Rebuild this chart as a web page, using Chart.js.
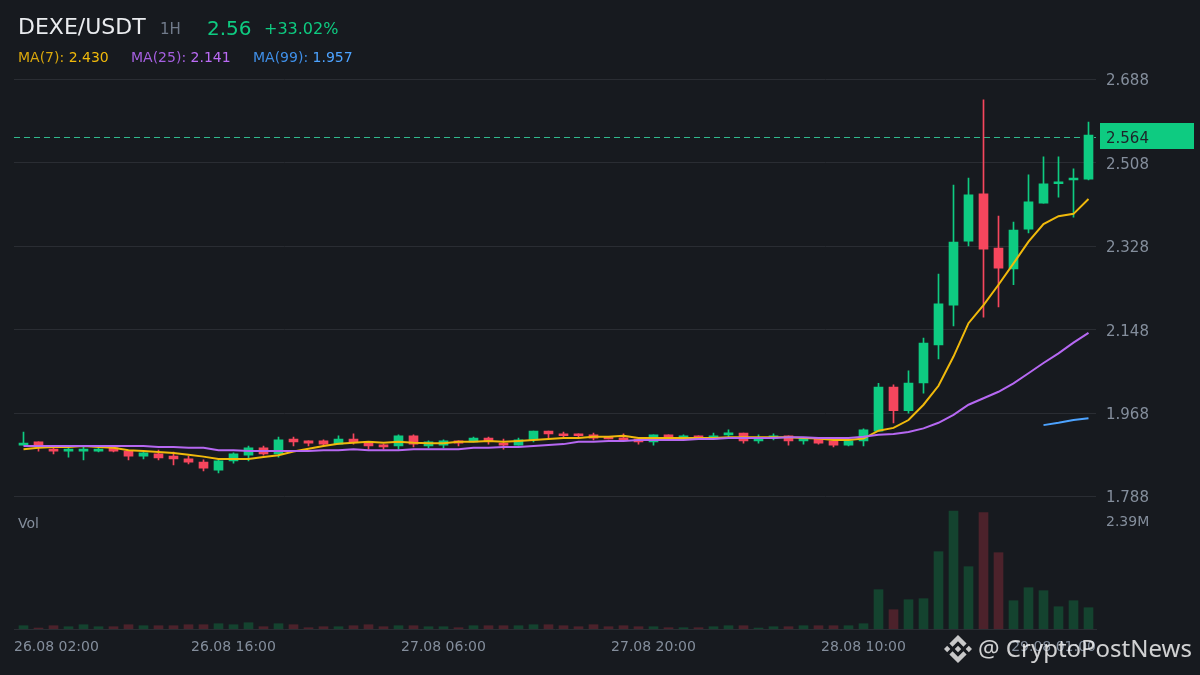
<!DOCTYPE html>
<html>
<head>
<meta charset="utf-8">
<title>DEXE/USDT</title>
<script src="https://cdn.jsdelivr.net/npm/chart.js@4"></script>
<style>
  html, body { margin: 0; padding: 0; background: #171a1f; }
  #wrap { position: relative; width: 1200px; height: 675px; overflow: hidden; font-family: "DejaVu Sans", sans-serif; }
  canvas { position: absolute; left: 0; top: 0; }
  #wrap span { position: absolute; white-space: nowrap; line-height: 1; }
  #logo { position: absolute; left: 944px; top: 635px; width: 28px; height: 28px; opacity: 0.85; }
</style>
</head>
<body>
<div id="wrap">
  <canvas id="chart" width="1200" height="675"></canvas>
  <span style="left:18px;top:16px;font-size:22px;color:#eaecef">DEXE/USDT</span>
  <span style="left:160px;top:22px;font-size:15px;color:#707a8a">1H</span>
  <span style="left:207px;top:18px;font-size:20px;color:#0ecb81">2.56</span>
  <span style="left:264px;top:21px;font-size:16px;color:#0ecb81">+33.02%</span>
  <span style="left:18px;top:50px;font-size:14px;color:#d9a70c">MA(7): <b style="font-weight:normal;color:#f0b90b">2.430</b></span>
  <span style="left:131px;top:50px;font-size:14px;color:#a55fe0">MA(25): <b style="font-weight:normal;color:#bb6bf5">2.141</b></span>
  <span style="left:253px;top:50px;font-size:14px;color:#3f8fe8">MA(99): <b style="font-weight:normal;color:#4da3ff">1.957</b></span>
  <span style="left:18px;top:516px;font-size:14px;color:#848e9c">Vol</span>
  <svg id="logo" viewBox="0 0 126.61 126.61" fill="#e8e8e8">
    <path d="M38.73 53.2L63.3 28.63l24.58 24.58 14.3-14.3L63.3 0 24.43 38.9z"/>
    <path d="M0 63.31l14.3-14.3 14.3 14.3-14.3 14.3z"/>
    <path d="M38.73 73.41L63.3 97.98l24.58-24.58 14.31 14.29-38.89 38.9-38.9-38.88z"/>
    <path d="M98.01 63.31l14.3-14.3 14.3 14.3-14.3 14.3z"/>
    <path d="M77.83 63.3L63.3 48.76 48.79 63.27l14.51 14.5z"/>
  </svg>
  <span style="left:978px;top:636px;font-size:24px;font-family:'Noto Sans',sans-serif;color:rgba(255,255,255,0.8)">@ CryptoPostNews</span>
</div>

<script>
const opens = [1.899, 1.906, 1.890, 1.886, 1.886, 1.886, 1.893, 1.886, 1.875, 1.880, 1.875, 1.869, 1.862, 1.845, 1.865, 1.877, 1.893, 1.880, 1.912, 1.908, 1.908, 1.901, 1.912, 1.906, 1.899, 1.897, 1.919, 1.897, 1.899, 1.908, 1.906, 1.914, 1.903, 1.899, 1.910, 1.929, 1.923, 1.923, 1.921, 1.916, 1.914, 1.912, 1.906, 1.921, 1.912, 1.919, 1.912, 1.921, 1.925, 1.908, 1.914, 1.919, 1.908, 1.912, 1.908, 1.899, 1.908, 1.929, 2.024, 1.973, 2.033, 2.115, 2.201, 2.339, 2.441, 2.324, 2.279, 2.365, 2.421, 2.463, 2.471, 2.473];
const closes = [1.903, 1.895, 1.886, 1.890, 1.890, 1.890, 1.886, 1.875, 1.882, 1.871, 1.869, 1.862, 1.849, 1.865, 1.880, 1.893, 1.880, 1.910, 1.906, 1.903, 1.901, 1.912, 1.906, 1.897, 1.895, 1.919, 1.901, 1.906, 1.908, 1.903, 1.914, 1.908, 1.899, 1.910, 1.929, 1.923, 1.919, 1.919, 1.914, 1.912, 1.910, 1.906, 1.921, 1.914, 1.919, 1.912, 1.919, 1.925, 1.908, 1.914, 1.919, 1.908, 1.914, 1.903, 1.899, 1.908, 1.932, 2.024, 1.973, 2.033, 2.119, 2.204, 2.337, 2.439, 2.322, 2.281, 2.363, 2.424, 2.463, 2.467, 2.475, 2.568];
const highs = [1.927, 1.906, 1.895, 1.895, 1.895, 1.892, 1.897, 1.886, 1.886, 1.888, 1.884, 1.875, 1.867, 1.869, 1.882, 1.897, 1.897, 1.916, 1.916, 1.908, 1.910, 1.919, 1.923, 1.906, 1.901, 1.921, 1.921, 1.908, 1.910, 1.908, 1.916, 1.916, 1.912, 1.914, 1.929, 1.929, 1.927, 1.923, 1.925, 1.916, 1.923, 1.912, 1.921, 1.921, 1.921, 1.919, 1.925, 1.932, 1.925, 1.921, 1.923, 1.919, 1.914, 1.912, 1.908, 1.908, 1.934, 2.032, 2.029, 2.059, 2.130, 2.268, 2.460, 2.475, 2.644, 2.393, 2.380, 2.482, 2.521, 2.521, 2.495, 2.596];
const lows = [1.899, 1.886, 1.880, 1.873, 1.867, 1.884, 1.884, 1.867, 1.869, 1.867, 1.856, 1.858, 1.843, 1.839, 1.860, 1.865, 1.877, 1.873, 1.897, 1.897, 1.897, 1.901, 1.901, 1.890, 1.890, 1.890, 1.895, 1.893, 1.893, 1.897, 1.906, 1.901, 1.890, 1.899, 1.906, 1.914, 1.914, 1.914, 1.910, 1.912, 1.910, 1.901, 1.899, 1.914, 1.912, 1.912, 1.912, 1.916, 1.903, 1.903, 1.910, 1.899, 1.901, 1.901, 1.895, 1.897, 1.897, 1.929, 1.947, 1.968, 2.011, 2.085, 2.156, 2.329, 2.175, 2.197, 2.245, 2.357, 2.421, 2.434, 2.391, 2.471];
const volumes = [0.073, 0.022, 0.073, 0.051, 0.095, 0.051, 0.051, 0.095, 0.073, 0.073, 0.073, 0.095, 0.095, 0.117, 0.095, 0.139, 0.051, 0.117, 0.095, 0.029, 0.051, 0.051, 0.073, 0.095, 0.051, 0.073, 0.073, 0.051, 0.051, 0.029, 0.073, 0.073, 0.073, 0.073, 0.095, 0.095, 0.073, 0.051, 0.095, 0.051, 0.073, 0.051, 0.051, 0.029, 0.029, 0.029, 0.051, 0.073, 0.073, 0.022, 0.051, 0.051, 0.073, 0.073, 0.073, 0.073, 0.117, 0.870, 0.427, 0.648, 0.671, 1.711, 2.611, 1.379, 2.574, 1.689, 0.626, 0.914, 0.848, 0.493, 0.626, 0.471];
const ma7 = [1.890, 1.893, 1.895, 1.895, 1.897, 1.895, 1.893, 1.888, 1.886, 1.884, 1.882, 1.878, 1.874, 1.869, 1.869, 1.869, 1.873, 1.877, 1.885, 1.891, 1.897, 1.902, 1.904, 1.906, 1.904, 1.906, 1.904, 1.903, 1.903, 1.906, 1.906, 1.908, 1.906, 1.908, 1.910, 1.912, 1.914, 1.914, 1.917, 1.917, 1.919, 1.914, 1.914, 1.914, 1.914, 1.914, 1.914, 1.916, 1.916, 1.916, 1.916, 1.916, 1.914, 1.913, 1.910, 1.910, 1.913, 1.930, 1.936, 1.953, 1.986, 2.027, 2.090, 2.162, 2.201, 2.245, 2.291, 2.338, 2.376, 2.393, 2.398, 2.430];
const ma25 = [1.897, 1.897, 1.897, 1.897, 1.897, 1.897, 1.897, 1.897, 1.897, 1.895, 1.895, 1.893, 1.893, 1.888, 1.888, 1.886, 1.886, 1.886, 1.886, 1.886, 1.888, 1.888, 1.890, 1.888, 1.888, 1.888, 1.890, 1.890, 1.890, 1.890, 1.893, 1.893, 1.895, 1.895, 1.897, 1.899, 1.901, 1.906, 1.906, 1.908, 1.908, 1.910, 1.910, 1.910, 1.910, 1.912, 1.912, 1.914, 1.914, 1.914, 1.914, 1.916, 1.916, 1.914, 1.914, 1.914, 1.917, 1.921, 1.923, 1.927, 1.935, 1.947, 1.964, 1.986, 2.000, 2.014, 2.032, 2.054, 2.076, 2.097, 2.120, 2.141];
const ma99 = [1.942, 1.947, 1.953, 1.957];
const ma99Start = 68;

const priceTicks = [1.788, 1.968, 2.148, 2.328, 2.508, 2.688];
const priceLine = 2.5635;
const priceLineLabel = '2.564';
const volTicks = [2.39];
const timeLabels = ['26.08 02:00', '26.08 16:00', '27.08 06:00', '27.08 20:00', '28.08 10:00', '29.08 01:00'];

const xMin = -0.6333;
const xMax = 71.5;
const timeTicks = [xMin, 14, 28, 42, 56, xMax];

const green = '#0ecb81';
const red = '#f6465d';
const gridColor = '#2a2d33';
const axisText = '#848e9c';

const isUp = opens.map((o, i) => closes[i] >= o);
const candleColors = isUp.map(up => up ? green : red);
const volColors = isUp.map(up => up ? '#14432f' : '#4c222b');

function linePoints(values, start) {
  return values.map((v, i) => ({ x: i + start, y: v }));
}

function maLine(values, start, color) {
  return {
    type: 'line',
    data: linePoints(values, start),
    yAxisID: 'y',
    borderColor: color,
    borderWidth: 2,
    pointRadius: 0,
    tension: 0,
    order: 1
  };
}

// green tag behind the current price label
const priceTag = {
  id: 'priceTag',
  beforeDraw(chart) {
    const y = Math.round(chart.scales.y.getPixelForValue(priceLine));
    chart.ctx.save();
    chart.ctx.fillStyle = green;
    chart.ctx.fillRect(1100, y - 14, 94, 26);
    chart.ctx.restore();
  }
};

new Chart(document.getElementById('chart'), {
  type: 'bar',
  plugins: [priceTag],
  data: {
    datasets: [
      maLine(ma99, ma99Start, '#4da3ff'),
      maLine(ma25, 0, '#b668f2'),
      maLine(ma7, 0, '#f0b90b'),
      {
        data: opens.map((o, i) => ({ x: i, y: [o, closes[i]] })),
        yAxisID: 'y',
        backgroundColor: candleColors,
        barThickness: 9,
        minBarLength: 2,
        grouped: false,
        order: 3
      },
      {
        data: lows.map((l, i) => ({ x: i, y: [l, highs[i]] })),
        yAxisID: 'y',
        backgroundColor: candleColors,
        barThickness: 1,
        grouped: false,
        order: 4
      },
      {
        data: volumes.map((v, i) => ({ x: i, y: v })),
        yAxisID: 'vol',
        backgroundColor: volColors,
        barThickness: 9,
        grouped: false,
        order: 5
      }
    ]
  },
  options: {
    responsive: false,
    animation: false,
    devicePixelRatio: 1,
    layout: { padding: { left: 14, top: 79.5, right: 0, bottom: 0 } },
    plugins: { legend: { display: false }, tooltip: { enabled: false } },
    scales: {
      x: {
        type: 'linear',
        offset: false,
        min: xMin,
        max: xMax,
        grid: { display: false, drawTicks: false, offset: false },
        border: { display: true, color: gridColor },
        afterBuildTicks(scale) { scale.ticks = timeTicks.map(v => ({ value: v })); },
        afterFit(scale) { scale.height = 46; },
        ticks: {
          autoSkip: false,
          maxRotation: 0,
          align: 'inner',
          padding: 10,
          color: axisText,
          font: { family: 'DejaVu Sans', size: 14 },
          callback(value, index) { return timeLabels[index]; }
        }
      },
      y: {
        position: 'right',
        stack: 'right',
        stackWeight: 425.5,
        weight: 1,
        min: 1.7696,
        max: 2.688,
        grid: {
          drawTicks: false,
          color: c => (c.tick && c.tick.value === priceLine) ? '#30b88c' : gridColor
        },
        border: {
          display: false,
          dash: c => (c.tick && c.tick.value === priceLine) ? [6, 4] : []
        },
        afterBuildTicks(scale) {
          scale.ticks = priceTicks.concat([priceLine]).sort((a, b) => a - b).map(v => ({ value: v }));
        },
        afterFit(scale) { scale.width = 104; },
        ticks: {
          autoSkip: false,
          padding: 10,
          labelOffset: 2,
          color: c => c.tick.value === priceLine ? '#1e2329' : axisText,
          font: { family: 'DejaVu Sans', size: 15 },
          callback(value) { return value === priceLine ? priceLineLabel : value.toFixed(3); }
        }
      },
      vol: {
        position: 'right',
        stack: 'right',
        stackWeight: 124,
        weight: 2,
        min: 0,
        max: 2.744,
        grid: { display: false, drawTicks: false },
        border: { display: false },
        afterBuildTicks(scale) { scale.ticks = volTicks.map(v => ({ value: v })); },
        afterFit(scale) { scale.width = 104; },
        ticks: {
          autoSkip: false,
          padding: 10,
          labelOffset: 1,
          color: axisText,
          font: { family: 'DejaVu Sans', size: 14 },
          callback(value) { return value.toFixed(2) + 'M'; }
        }
      }
    }
  }
});
</script>
</body>
</html>
